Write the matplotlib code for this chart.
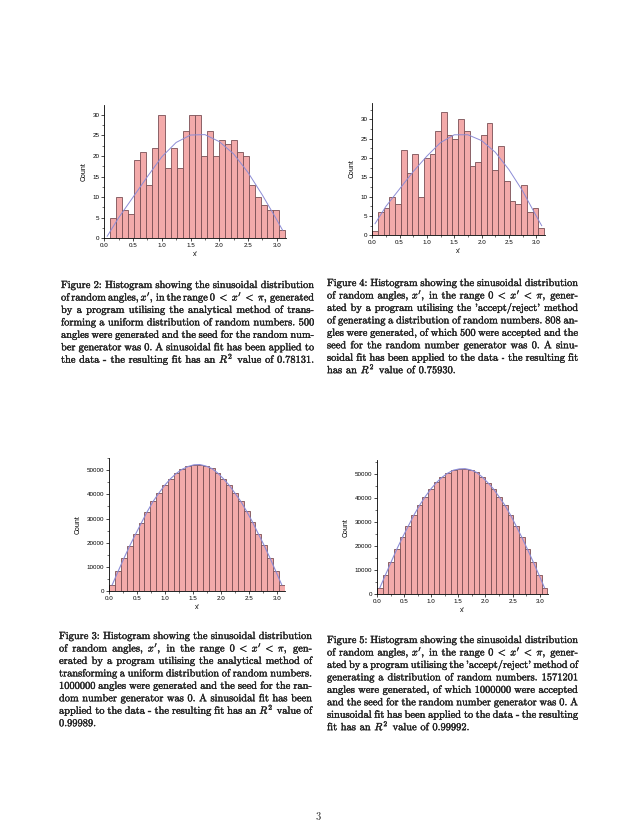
import re
import numpy as np
import matplotlib
matplotlib.use('Agg')
import matplotlib.pyplot as plt
import matplotlib.patheffects as pe
from matplotlib.ticker import MultipleLocator, FormatStrFormatter

W, H = 638, 826

# bin counts (30 bins over 0..pi)
counts_fig2 = [0, 5, 10, 7, 6, 19, 21, 13, 22, 30, 17, 22, 17, 26, 30,
               30, 20, 26, 20, 24, 23, 24, 21, 20, 13, 10, 8, 7, 7, 2]
counts_fig4 = [1, 6, 7, 10, 8, 22, 16, 21, 10, 20, 21, 27, 32, 26, 25,
               30, 27, 18, 19, 26, 29, 17, 23, 14, 9, 8, 13, 6, 7, 2]
counts_fig3 = [2700, 8200, 13600, 18800, 23600, 28300, 32900, 37100, 40600, 43800,
               46500, 48700, 50400, 51500, 52200, 52300, 51700, 50700, 48900, 46500,
               43800, 40500, 37100, 33000, 28600, 23700, 18900, 13700, 8200, 2700]
counts_fig5 = [2700, 8100, 13500, 18800, 23700, 28300, 32900, 37000, 40600, 43800,
               46500, 48700, 50400, 51600, 52100, 52200, 51700, 50700, 48800, 46400,
               43800, 40500, 37100, 33000, 28400, 23700, 18700, 13500, 8200, 2700]

# sinusoidal fit curves
fit2_x = [0.05, 0.25, 0.5, 0.75, 1.0, 1.25, 1.5, 1.75, 2.0, 2.25, 2.5, 2.75, 3.0, 3.1]
fit2_y = [0.5, 5, 10, 15, 19.8, 23.3, 25.1, 25.2, 23.5, 20.5, 16, 10.5, 4.5, 2]
fit4_x = [0.05, 0.25, 0.5, 0.75, 1.0, 1.25, 1.5, 1.75, 2.0, 2.25, 2.5, 2.75, 3.0, 3.1]
fit4_y = [3, 7.5, 12, 16.5, 20.5, 24, 26, 26, 24.5, 21.5, 17, 11.5, 5, 2.5]

RANGE = "$0\\;<\\;x'\\;<\\;\\pi$,"
cap2 = ["Figure 2: Histogram showing the sinusoidal distribution",
        "of random angles, $x'$, in the range " + RANGE + " generated",
        "by a program utilising the analytical method of trans-",
        "forming a uniform distribution of random numbers. 500",
        "angles were generated and the seed for the random num-",
        "ber generator was 0. A sinusoidal fit has been applied to",
        "the data - the resulting fit has an $R^2$ value of 0.78131."]
cap4 = ["Figure 4: Histogram showing the sinusoidal distribution",
        "of random angles, $x'$, in the range " + RANGE + " gener-",
        "ated by a program utilising the 'accept/reject' method",
        "of generating a distribution of random numbers. 808 an-",
        "gles were generated, of which 500 were accepted and the",
        "seed for the random number generator was 0. A sinu-",
        "soidal fit has been applied to the data - the resulting fit",
        "has an $R^2$ value of 0.75930."]
cap3 = ["Figure 3: Histogram showing the sinusoidal distribution",
        "of random angles, $x'$, in the range " + RANGE + " gen-",
        "erated by a program utilising the analytical method of",
        "transforming a uniform distribution of random numbers.",
        "1000000 angles were generated and the seed for the ran-",
        "dom number generator was 0. A sinusoidal fit has been",
        "applied to the data - the resulting fit has an $R^2$ value of",
        "0.99989."]
cap5 = ["Figure 5: Histogram showing the sinusoidal distribution",
        "of random angles, $x'$, in the range " + RANGE + " gener-",
        "ated by a program utilising the 'accept/reject' method of",
        "generating a distribution of random numbers. 1571201",
        "angles were generated, of which 1000000 were accepted",
        "and the seed for the random number generator was 0. A",
        "sinusoidal fit has been applied to the data - the resulting",
        "fit has an $R^2$ value of 0.99992."]

plt.rcParams['mathtext.fontset'] = 'cm'
plt.rcParams['axes.unicode_minus'] = False

fig = plt.figure(figsize=(W / 100, H / 100), dpi=100)
fig.patch.set_facecolor('white')

edges = np.linspace(0, np.pi, 31)

BAR_FC = '#f3aaaa'
BAR_EC = '#7a4f55'
FIT_C = '#8c8cd6'


def make_axes(x0, x1, y0, y1):
    # pixel box -> figure fraction
    return fig.add_axes([x0 / W, 1 - y0 / H, (x1 - x0) / W, (y0 - y1) / H])


def hist_panel(box, counts, ymax, ymajor, fit_x=None, fit_y=None):
    ax = make_axes(*box)
    ax.bar(edges[:-1], counts, width=np.diff(edges), align='edge',
           color=BAR_FC, edgecolor=BAR_EC, linewidth=0.6)
    if fit_x is None:
        centres = (edges[:-1] + edges[1:]) / 2
        ax.plot(centres, counts, color=FIT_C, lw=0.8)
    else:
        ax.plot(fit_x, fit_y, color=FIT_C, lw=0.7)
    ax.set_xlim(0, np.pi + 0.01)
    ax.set_ylim(0, ymax)
    for s in ['top', 'right']:
        ax.spines[s].set_visible(False)
    for s in ['left', 'bottom']:
        ax.spines[s].set_linewidth(0.6)
    ax.xaxis.set_major_locator(MultipleLocator(0.5))
    ax.xaxis.set_minor_locator(MultipleLocator(0.25))
    ax.yaxis.set_major_locator(MultipleLocator(ymajor))
    ax.yaxis.set_minor_locator(MultipleLocator(ymajor / 2))
    ax.xaxis.set_major_formatter(FormatStrFormatter('%.1f'))
    ax.tick_params(which='major', length=2, width=0.5, labelsize=4.5, pad=1.5)
    ax.tick_params(which='minor', length=1.2, width=0.4)
    for lab in ax.get_xticklabels() + ax.get_yticklabels():
        lab.set_family('Liberation Sans')
    ax.set_xlabel("x'", fontsize=5, family='Liberation Sans', labelpad=2)
    ax.set_ylabel('Count', fontsize=5, family='Liberation Sans', labelpad=3.5)
    ax.set_facecolor('none')
    return ax


hist_panel((104.3, 285.5, 238.3, 105), counts_fig2, 32.4, 5, fit2_x, fit2_y)
hist_panel((372.3, 544.5, 235.3, 102.7), counts_fig4, 34.3, 5, fit4_x, fit4_y)
hist_panel((109.3, 285.2, 591.3, 458), counts_fig3, 55000, 10000)
hist_panel((377.0, 547.9, 594.3, 460), counts_fig5, 55800, 10000)

renderer = fig.canvas.get_renderer()
CAP_FS = 7.5
LINE_H = 12.45
heavier = [pe.withStroke(linewidth=0.25, foreground='#222222')]


def caption(lines, left, right, base):
    # justified paragraph, one text per word
    for i, line in enumerate(lines):
        y = base + i * LINE_H
        words = re.findall(r'(?:\$[^$]*\$|[^\s$])+', line)
        texts = [fig.text(0, 1 - y / H, w, fontsize=CAP_FS, family='cmr10',
                          va='baseline', ha='left', color='#222222',
                          path_effects=heavier) for w in words]
        widths = [t.get_window_extent(renderer).width for t in texts]
        if i < len(lines) - 1 and len(words) > 1:
            gap = (right - left - sum(widths)) / (len(words) - 1)
        else:
            gap = CAP_FS * 100 / 72 * 0.36
        x = left
        for t, w in zip(texts, widths):
            t.set_x(x / W)
            x += w + gap


caption(cap2, 61, 314, 288)
caption(cap4, 327, 578, 286)
caption(cap3, 59, 312, 639)
caption(cap5, 327, 578, 643)

fig.text(318 / W, 1 - 820 / H, '3', fontsize=CAP_FS, family='cmr10',
         ha='center', va='baseline', color='#222222')

fig.savefig('out.png', dpi=100)
